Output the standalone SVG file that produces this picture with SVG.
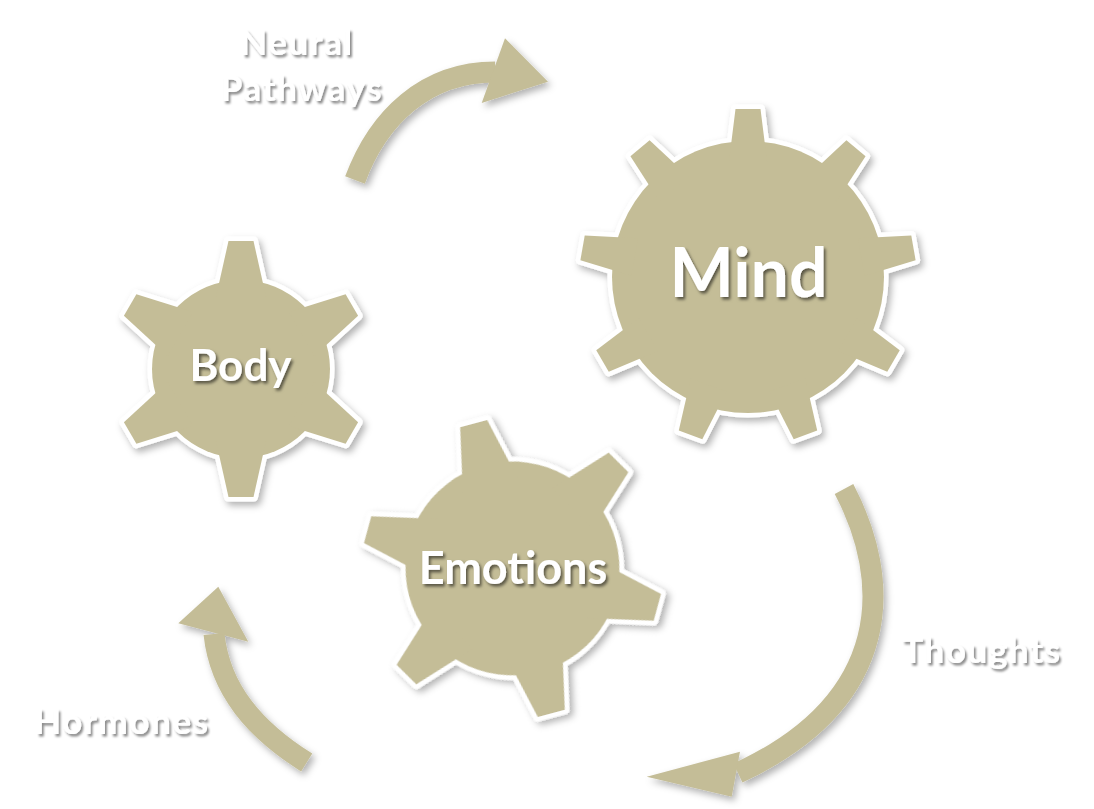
<svg xmlns="http://www.w3.org/2000/svg" xmlns:xlink="http://www.w3.org/1999/xlink" width="1094" height="809" viewBox="0 0 1094 809">
<defs>
<filter id="sh" x="-20%" y="-20%" width="140%" height="140%">
<feDropShadow dx="3" dy="4" stdDeviation="3.5" flood-color="#000" flood-opacity="0.3"/>
</filter>
<filter id="ts" x="-10%" y="-20%" width="120%" height="140%">
<feDropShadow dx="2" dy="2.5" stdDeviation="1.5" flood-color="#000" flood-opacity="0.55"/>
</filter>
<filter id="ls" x="-10%" y="-20%" width="120%" height="140%">
<feDropShadow dx="2" dy="2.5" stdDeviation="1.2" flood-color="#000" flood-opacity="0.45"/>
</filter>
<polygon id="tM" points="-19.1,-115 -12.5,-168 12.5,-168 19.1,-115"/>
<polygon id="tB" points="-25.5,-70 -12.5,-128 12.5,-128 25.5,-70"/>
<polygon id="tE" points="-28.6,-85 -14,-150 14,-150 28.6,-85"/>
<g id="gearM">
<circle r="136"/>
<use xlink:href="#tM"/><use xlink:href="#tM" transform="rotate(40)"/><use xlink:href="#tM" transform="rotate(80)"/>
<use xlink:href="#tM" transform="rotate(120)"/><use xlink:href="#tM" transform="rotate(160)"/><use xlink:href="#tM" transform="rotate(200)"/>
<use xlink:href="#tM" transform="rotate(240)"/><use xlink:href="#tM" transform="rotate(280)"/><use xlink:href="#tM" transform="rotate(320)"/>
</g>
<g id="gearB">
<circle r="89"/>
<use xlink:href="#tB"/><use xlink:href="#tB" transform="rotate(60)"/><use xlink:href="#tB" transform="rotate(120)"/>
<use xlink:href="#tB" transform="rotate(180)"/><use xlink:href="#tB" transform="rotate(240)"/><use xlink:href="#tB" transform="rotate(300)"/>
</g>
<g id="gearE">
<circle r="107"/>
<use xlink:href="#tE"/><use xlink:href="#tE" transform="rotate(60)"/><use xlink:href="#tE" transform="rotate(120)"/>
<use xlink:href="#tE" transform="rotate(180)"/><use xlink:href="#tE" transform="rotate(240)"/><use xlink:href="#tE" transform="rotate(300)"/>
</g>
</defs>
<style>
.edge{fill:#ffffff;stroke:#ffffff;stroke-width:9;stroke-linejoin:round}
.fillc{fill:#C4BD97;stroke:none}
.gl{font-family:Lato,"Liberation Sans",sans-serif;font-weight:bold;fill:#ffffff;text-anchor:middle;filter:url(#ts)}
.lab{font-family:Lato,"Liberation Sans",sans-serif;font-weight:bold;fill:#ffffff;text-anchor:middle;letter-spacing:1.6px;filter:url(#ls)}
.shaft{fill:none;stroke:#C4BD97;stroke-width:21;stroke-linecap:butt}
.head{fill:#C4BD97}
</style>
<rect width="1094" height="809" fill="#ffffff"/>
<g id="connectors">
<g id="arrow-neural" filter="url(#sh)">
<path class="shaft" d="M355,180 C378,118 425,72 495,72"/>
<polygon class="head" points="505,38.3 548,81.7 481.7,103"/>
</g>
<g id="arrow-thoughts" filter="url(#sh)">
<path class="shaft" d="M844,489 C892,580 895,700 738,773"/>
<polygon class="head" points="740,751.7 646.7,776.7 731.7,796.7"/>
</g>
<g id="arrow-hormones" filter="url(#sh)">
<path class="shaft" d="M306.7,762.5 C255,730 220,690 214,634"/>
<polygon class="head" points="178.3,623.3 218.3,586.7 248.3,641.7"/>
</g>
<text class="lab" x="297" y="55" font-size="35">Neural</text>
<text class="lab" x="302" y="101" font-size="35">Pathways</text>
<text class="lab" x="982" y="663" font-size="35">Thoughts</text>
<text class="lab" x="122" y="734" font-size="35">Hormones</text>
</g>
<g id="node-mind">
<g filter="url(#sh)" transform="translate(748,277)">
<use xlink:href="#gearM" class="edge"/>
<use xlink:href="#gearM" class="fillc"/>
</g>
<text class="gl" x="748.5" y="296.7" font-size="68">Mind</text>
</g>
<g id="node-body">
<g filter="url(#sh)" transform="translate(241,369)">
<use xlink:href="#gearB" class="edge"/>
<use xlink:href="#gearB" class="fillc"/>
</g>
<text class="gl" x="240.5" y="381" font-size="44">Body</text>
</g>
<g id="node-emotions">
<g filter="url(#sh)" transform="translate(512.5,568.5) rotate(-15)">
<use xlink:href="#gearE" class="edge"/>
<use xlink:href="#gearE" class="fillc"/>
</g>
<text class="gl" x="513" y="583.5" font-size="45">Emotions</text>
</g>
</svg>
